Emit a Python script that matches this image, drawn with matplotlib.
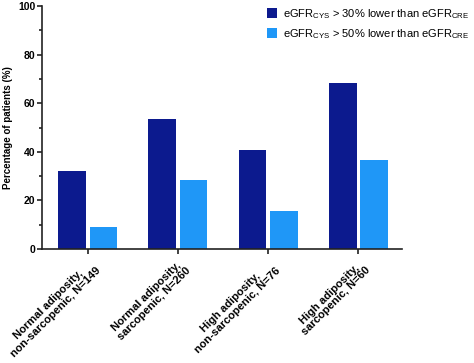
import matplotlib
matplotlib.use("Agg")
import matplotlib.pyplot as plt
import numpy as np

plt.rcParams['font.family'] = ['Liberation Sans', 'DejaVu Sans']
plt.rcParams['mathtext.fontset'] = 'custom'
plt.rcParams['mathtext.rm'] = 'Liberation Sans'

categories = ["Normal adiposity,\nnon-sarcopenic, N=149",
              "Normal adiposity,\nsarcopenic, N=260",
              "High adiposity,\nnon-sarcopenic, N=76",
              "High adiposity,\nsarcopenic, N=60"]
series_labels = [r"eGFR$_{\mathrm{CYS}}$ > 30% lower than eGFR$_{\mathrm{CRE}}$",
                 r"eGFR$_{\mathrm{CYS}}$ > 50% lower than eGFR$_{\mathrm{CRE}}$"]
lower30 = [32.1, 53.4, 40.7, 68.3]
lower50 = [9.1, 28.4, 15.7, 36.6]
yticks = [0, 20, 40, 60, 80, 100]
yminor = [10, 30, 50, 70, 90]

dark = '#0c1a8e'
light = '#1f97f7'

fig = plt.figure(figsize=(4.74, 3.63), dpi=100)
ax = fig.add_axes([0.0886, 0.314, 0.760, 0.669])

x = np.arange(len(categories))
w = 0.31
gap = 0.035
b1 = ax.bar(x - (w + gap) / 2, lower30, width=w, color=dark, label=series_labels[0])
b2 = ax.bar(x + (w + gap) / 2, lower50, width=w, color=light, label=series_labels[1])

ax.set_xlim(-0.51, 3.49)
ax.set_ylim(0, 100)
ax.set_yticks(yticks)
ax.set_yticks(yminor, minor=True)
ax.set_yticklabels([str(t) for t in yticks], fontsize=7.5, fontweight='bold')
ax.set_xticks(x)
ax.set_xticklabels(categories, rotation=45, ha='right', va='top', rotation_mode='anchor',
                   fontsize=8, fontweight='bold', linespacing=1.0, multialignment='center')
ax.set_ylabel("Percentage of patients (%)", fontsize=7, fontweight='bold', labelpad=4)

for s in ['top', 'right']:
    ax.spines[s].set_visible(False)
for s in ['left', 'bottom']:
    ax.spines[s].set_linewidth(1.2)
    ax.spines[s].set_color('#222222')
ax.tick_params(axis='both', which='major', direction='out', length=3.6, width=1.2, color='#222222')
ax.tick_params(axis='y', which='minor', direction='out', length=2.2, width=1.2, color='#222222')
ax.tick_params(axis='y', which='major', pad=1)
ax.tick_params(axis='x', pad=3)

fig.legend(handles=[b1, b2], loc='upper left', bbox_to_anchor=(0.553, 0.993),
           frameon=False, fontsize=8, handlelength=0.9, handleheight=1.0,
           handletextpad=0.6, labelspacing=0.55, borderaxespad=0)

fig.savefig("out.png", dpi=100)
